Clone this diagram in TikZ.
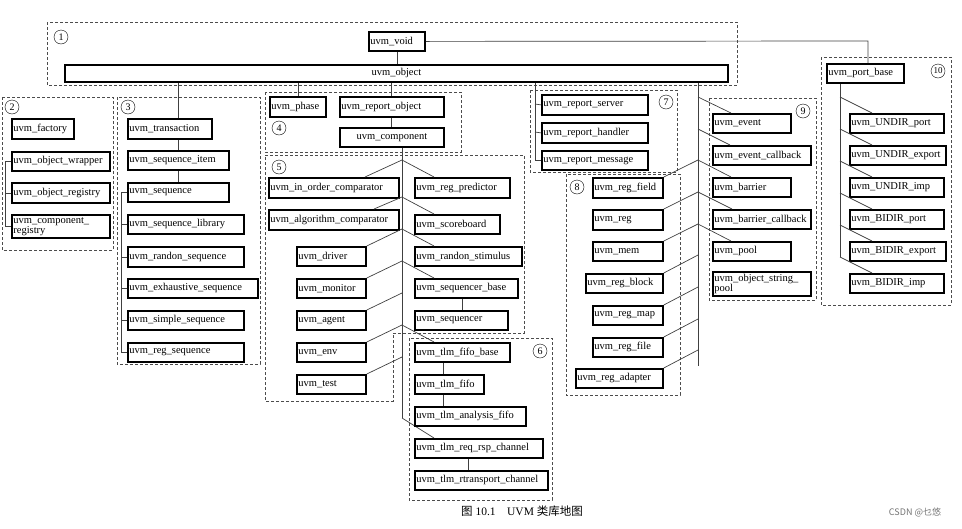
\documentclass[tikz,border=0pt]{standalone}
\usepackage{fontspec}
\setmainfont{Liberation Serif}
\newfontfamily\cjk{Noto Sans CJK SC}
\begin{document}
\begin{tikzpicture}[x=1pt,y=-1pt,
  box/.style={draw,line width=1.8pt,inner xsep=1.5pt,inner ysep=0pt,align=left,font=\fontsize{10.5}{8.5}\selectfont},
  grp/.style={draw=black!70,densely dashed,line width=0.7pt},
  ln/.style={draw=black!75,line width=0.7pt},
  num/.style={draw,circle,inner sep=0.8pt,minimum size=14pt,font=\fontsize{10}{10}\selectfont}]
\useasboundingbox (0,0) rectangle (962,528);
\newcommand\bx[6]{\pgfmathsetmacro\bw{#4-#2-3}\pgfmathsetmacro\bh{#5-#3}%
  \node[box,anchor=north west,text width=\bw pt,minimum height=\bh pt] (#1) at (#2,#3) {#6};}
% groups
\draw[grp] (47,22) rectangle (737,85);
\draw[grp] (2,97) rectangle (113,250);
\draw[grp] (117,97) rectangle (260,364);
\draw[grp] (265,92) rectangle (461,152);
\draw[grp] (265,155) -- (524,155) -- (524,333) -- (393,333) -- (393,401) -- (265,401) -- cycle;
\draw[grp] (409,338) rectangle (552,500);
\draw[grp] (530,90) rectangle (677,172);
\draw[grp] (566,174) rectangle (680,395);
\draw[grp] (709,98) rectangle (816,300);
\draw[grp] (821,57) rectangle (951,305);
\node[num] (n1) at (61,37) {1};
\node[num] (n2) at (12,107) {2};
\node[num] (n3) at (128,107) {3};
\node[num] (n4) at (279,128) {4};
\node[num] (n5) at (279,167) {5};
\node[num] (n6) at (540,351) {6};
\node[num] (n7) at (666,102) {7};
\node[num] (n8) at (577,187) {8};
\node[num] (n9) at (803,111) {9};
\node[num,font=\fontsize{9}{9}\selectfont] (n10) at (938,71) {10};
% group 1
\bx{void}{368}{31}{424}{50}{uvm\_void}
\node[box,anchor=north west,minimum width=663pt,minimum height=17pt,align=center] (obj) at (64,64) {uvm\_object};
\draw[ln] (void.south) -- (obj.north-|void.south);
% group 2
\bx{fac}{11}{118}{73}{138}{uvm\_factory}
\bx{wrap}{11}{151}{109}{170}{uvm\_object\_wrapper}
\bx{oreg}{11}{182}{109}{202}{uvm\_object\_registry}
\bx{creg}{11}{214}{109}{237}{uvm\_component\_\\registry}
\draw[ln] (wrap.west) -- ++(-6,0) |- (creg.west);
\draw[ln] (oreg.west) -- ++(-6,0);
% group 3
\bx{tr}{127}{118}{211}{138}{uvm\_transaction}
\bx{si}{127}{150}{228}{169}{uvm\_sequence\_item}
\bx{sq}{127}{182}{228}{201}{uvm\_sequence}
\bx{sl}{127}{214}{243}{233}{uvm\_sequence\_library}
\bx{rs}{127}{246}{243}{266}{uvm\_randon\_sequence}
\bx{es}{127}{278}{257}{297}{uvm\_exhaustive\_sequence}
\bx{ss}{127}{310}{243}{329}{uvm\_simple\_sequence}
\bx{rq}{127}{342}{243}{361}{uvm\_reg\_sequence}
\draw[ln] (obj.south-|178,0) -- (tr.north-|178,0);
\draw[ln] (tr.south-|178,0) -- (si.north-|178,0);
\draw[ln] (si.south-|178,0) -- (sq.north-|178,0);
\draw[ln] (sq.west) -- ++(-6,0) |- (rq.west);
\foreach \n in {sl,rs,es,ss} \draw[ln] (\n.west) -- ++(-6,0);
% group 4
\bx{ph}{269}{96}{325}{116}{uvm\_phase}
\bx{ro}{339}{96}{443}{116}{uvm\_report\_object}
\node[box,anchor=north west,minimum width=104pt,minimum height=19pt,align=center] (comp) at (339,127) {uvm\_component};
\draw[ln] (obj.south-|298,0) -- (ph.north-|298,0);
\draw[ln] (obj.south-|391,0) -- (ro.north-|391,0);
\draw[ln] (ro.south-|391,0) -- (comp.north-|391,0);
% group 5
\bx{ioc}{268}{177}{398}{197}{uvm\_in\_order\_comparator}
\bx{alg}{268}{209}{398}{229}{uvm\_algorithm\_comparator}
\bx{drv}{296}{246}{365}{265}{uvm\_driver}
\bx{mon}{296}{278}{365}{297}{uvm\_monitor}
\bx{agt}{296}{310}{365}{329}{uvm\_agent}
\bx{env}{296}{342}{365}{361}{uvm\_env}
\bx{tst}{296}{374}{365}{393}{uvm\_test}
\bx{prd}{414}{177}{509}{197}{uvm\_reg\_predictor}
\bx{scb}{414}{214}{499}{233}{uvm\_scoreboard}
\bx{rst}{414}{246}{521}{265}{uvm\_randon\_stimulus}
\bx{sqb}{414}{278}{517}{297}{uvm\_sequencer\_base}
\bx{sqr}{414}{310}{507}{329}{uvm\_sequencer}
\draw[ln] (sqb.south-|462,0) -- (sqr.north-|462,0);
\coordinate (t5) at (402,418);
\draw[ln] (comp.south-|402,0) -- (t5);
\draw[ln] (365,177) -- (402,160) -- (434,177);
\draw[ln] (374,209) -- (402,197) -- (434,214);
\draw[ln] (drv.north east) -- (402,229) -- (434,246);
\draw[ln] (mon.north east) -- (402,261) -- (434,278);
\draw[ln] (agt.north east) -- (402,293);
\draw[ln] (env.north east) -- (402,325) -- (434,342);
\draw[ln] (tst.north east) -- (402,357);
\draw[ln] (t5) -- (434,438);
% group 6
\bx{ffb}{414}{342}{509}{361}{uvm\_tlm\_fifo\_base}
\bx{ff}{414}{374}{483}{393}{uvm\_tlm\_fifo}
\bx{aff}{414}{406}{525}{425}{uvm\_tlm\_analysis\_fifo}
\bx{rrc}{414}{438}{542}{457}{uvm\_tlm\_req\_rsp\_channel}
\bx{rtc}{414}{470}{547}{489}{uvm\_tlm\_rtransport\_channel}
\draw[ln] (ffb.south-|443,0) -- (ff.north-|443,0);
\draw[ln] (ff.south-|443,0) -- (aff.north-|443,0);
\draw[ln] (rrc.south-|468,0) -- (rtc.north-|468,0);
% group 7
\bx{rsv}{541}{94}{647}{114}{uvm\_report\_server}
\bx{rhd}{541}{122}{647}{142}{uvm\_report\_handler}
\bx{rmg}{541}{150}{647}{169}{uvm\_report\_message}
\draw[ln] (obj.south-|535,0) |- (rmg.west);
\draw[ln] (535,104) -- (rsv.west);
\draw[ln] (535,132) -- (rhd.west);
% group 8
\bx{rf}{592}{177}{662}{197}{uvm\_reg\_field}
\bx{rg}{592}{209}{662}{229}{uvm\_reg}
\bx{mem}{592}{241}{662}{260}{uvm\_mem}
\bx{rb}{585}{273}{662}{292}{uvm\_reg\_block}
\bx{rm}{592}{305}{662}{324}{uvm\_reg\_map}
\bx{rfl}{592}{337}{662}{356}{uvm\_reg\_file}
\bx{rad}{575}{368}{662}{387}{uvm\_reg\_adapter}
% group 9
\bx{ev}{712}{113}{790}{132}{uvm\_event}
\bx{evc}{712}{145}{810}{164}{uvm\_event\_callback}
\bx{bar}{712}{177}{790}{196}{uvm\_barrier}
\bx{barc}{712}{209}{810}{228}{uvm\_barrier\_callback}
\bx{pool}{712}{241}{790}{260}{uvm\_pool}
\bx{osp}{712}{271}{810}{295}{uvm\_object\_string\_\\pool}
\coordinate (t9) at (698,366);
\draw[ln] (obj.south-|698,0) -- (t9);
\draw[ln] (698,97) -- (731,113);
\draw[ln] (698,129) -- (730,145);
\draw[ln] (rf.north east) -- (698,160) -- (731,177);
\draw[ln] (rg.north east) -- (698,192) -- (732,209);
\draw[ln] (mem.north east) -- (698,224) -- (731,241);
\draw[ln] (rb.north east) -- (698,255);
\draw[ln] (rm.north east) -- (698,287);
\draw[ln] (rfl.north east) -- (698,319);
\draw[ln] (rad.north east) -- (698,350);
% group 10
\bx{pb}{826}{63}{903}{82}{uvm\_port\_base}
\draw[ln] (void.east) -- (868,41) -- (pb.north-|868,0);
\bx{up}{849}{113}{943}{132}{uvm\_UNDIR\_port}
\bx{ue}{849}{145}{945}{164}{uvm\_UNDIR\_export}
\bx{ui}{849}{177}{943}{196}{uvm\_UNDIR\_imp}
\bx{bp}{849}{209}{943}{228}{uvm\_BIDIR\_port}
\bx{be}{849}{241}{945}{260}{uvm\_BIDIR\_export}
\bx{bi}{849}{273}{943}{292}{uvm\_BIDIR\_imp}
\draw[ln] (pb.south-|840,0) -- (840,257);
\foreach \n/\y in {up/97,ue/129,ui/161,bp/193,be/225,bi/257}
  \draw[ln] (840,\y) -- (\n.north-|872,0);
% caption
\node[font=\fontsize{11.5}{12}\selectfont] (cap) at (522,511) {{\cjk 图} 10.1\quad UVM {\cjk 类库地图}};
\node[font=\cjk\fontsize{9}{10}\selectfont,text=black!55] (wm) at (915,512) {CSDN @乜悠};
\end{tikzpicture}
\end{document}
